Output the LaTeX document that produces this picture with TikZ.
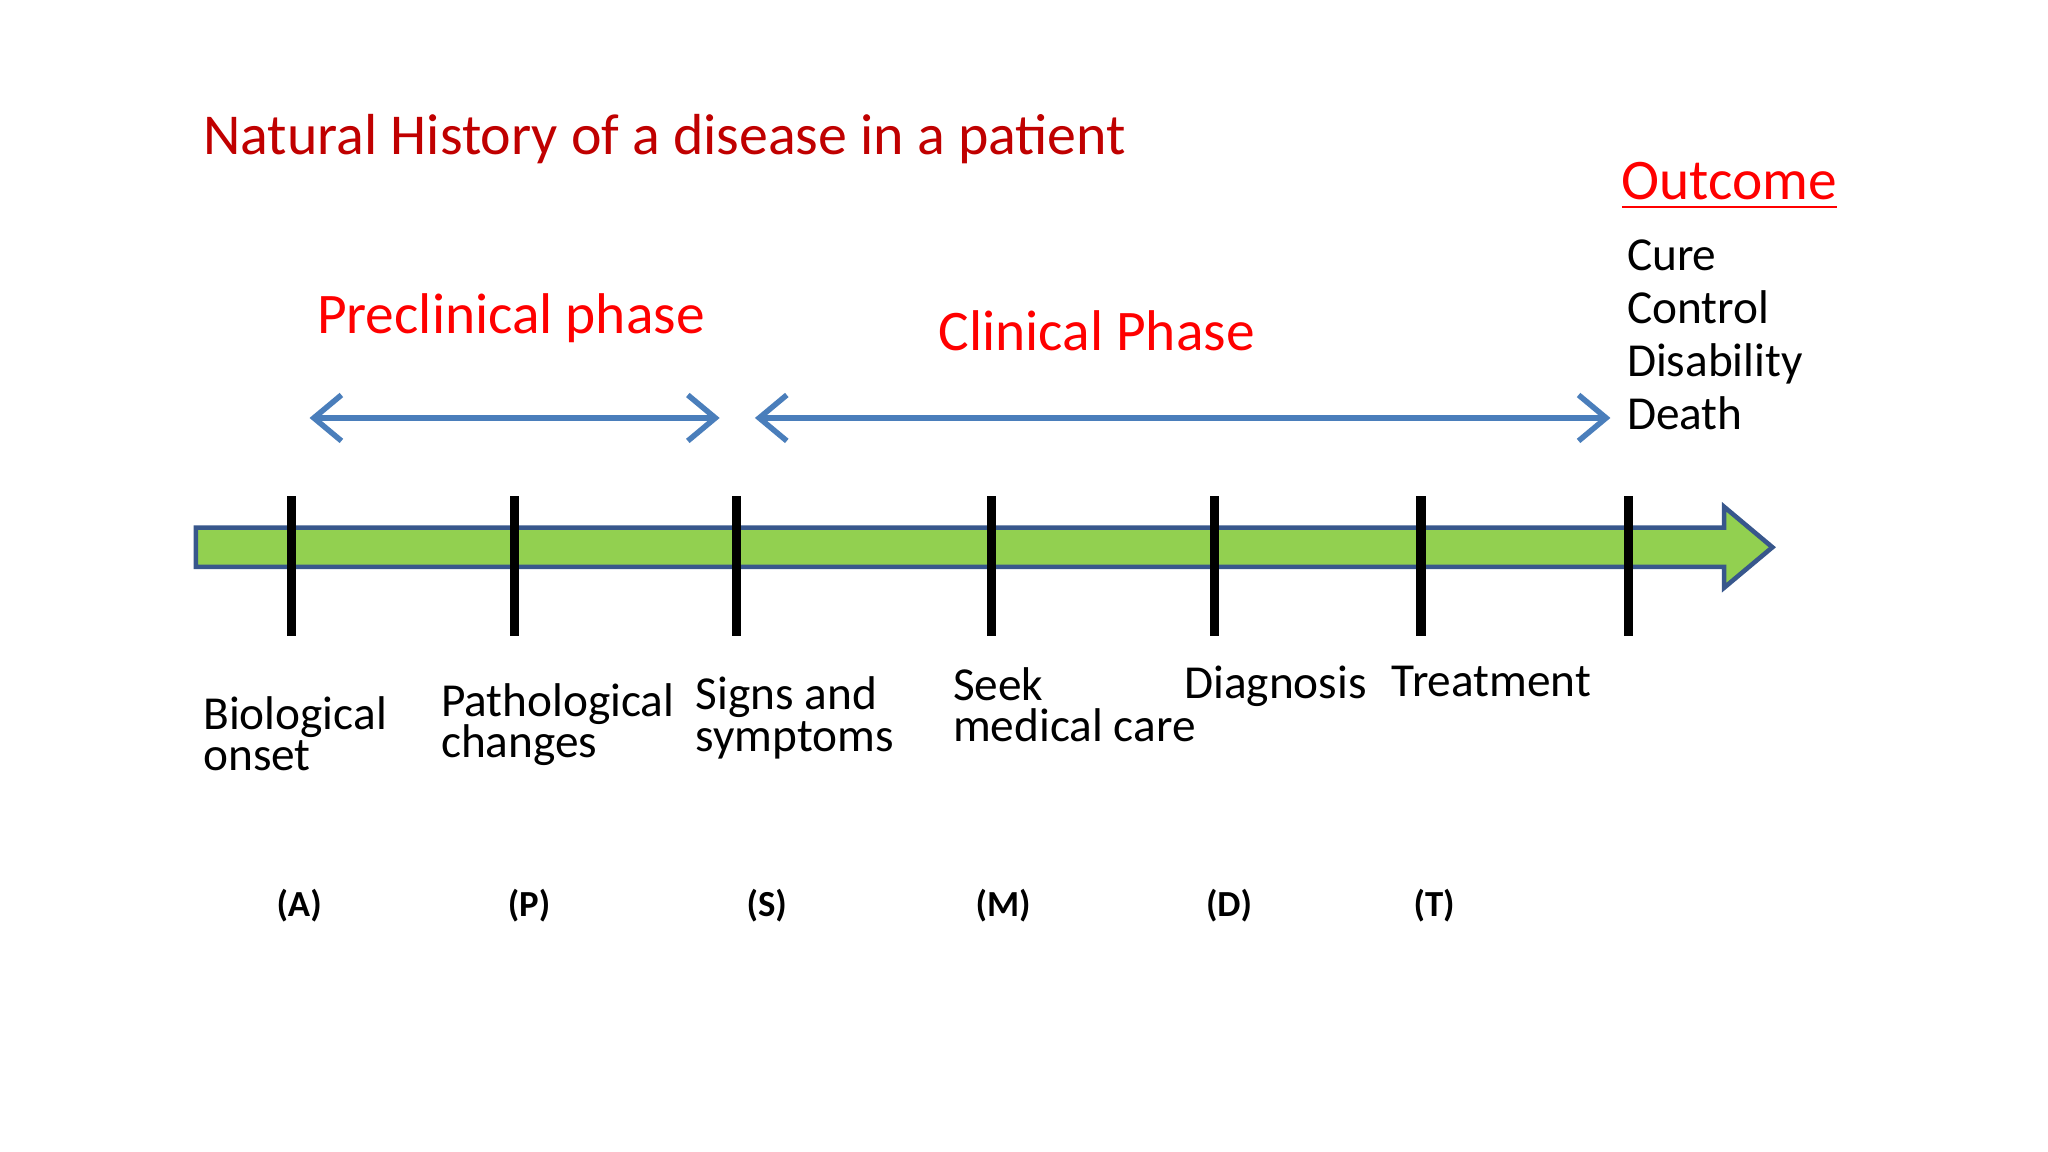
\documentclass[tikz,border=0pt]{standalone}
\usepackage{fontspec}
\setmainfont{Carlito}
\usetikzlibrary{arrows.meta}
\definecolor{dred}{RGB}{192,0,0}
\definecolor{bred}{RGB}{255,0,0}
\definecolor{ablue}{RGB}{74,126,187}
\definecolor{gfill}{RGB}{146,208,80}
\definecolor{gedge}{RGB}{56,87,140}
\begin{document}
\begin{tikzpicture}[x=0.01cm,y=-0.01cm,
  lab/.style={anchor=base west,inner sep=0pt,font=\fontsize{10.3pt}{9pt}\selectfont,align=left},
  let/.style={anchor=base,inner sep=0pt,font=\fontsize{8pt}{9pt}\selectfont\bfseries},
  tick/.style={line width=2pt,black},
  red/.style={anchor=base west,inner sep=0pt,text=bred,font=\fontsize{12.5pt}{14pt}\selectfont},
  phase/.style={ablue,line width=1.2pt,{Straight Barb[length=6pt,width=10pt]}-{Straight Barb[length=6pt,width=10pt]}}]
\useasboundingbox (0,0) rectangle (1568,882);
\node[anchor=base west,inner sep=0pt,text=dred,font=\fontsize{12.6pt}{14pt}\selectfont] (title) at (155,118) {Natural History of a disease in a patient};
\node[red] (pre) at (242,255) {Preclinical phase};
\node[red] (cli) at (718,268) {Clinical Phase};
\node[red] (out) at (1241,153) {\underline{Outcome}};
\node[lab] (cure) at (1245,207) {Cure};
\node[lab] (ctrl) at (1245,248) {Control};
\node[lab] (dis) at (1245,288) {Disability};
\node[lab] (death) at (1245,329) {Death};
\coordinate (p1) at (237,320); \coordinate (p2) at (551,320);
\coordinate (c1) at (578,320); \coordinate (c2) at (1233,320);
\draw[phase] (p1) -- (p2);
\draw[phase] (c1) -- (c2);
\draw[fill=gfill,draw=gedge,line width=1pt] (150,404) -- (1320,404) -- (1320,388) -- (1357,419) -- (1320,450) -- (1320,434) -- (150,434) -- cycle;
\foreach \x in {223,394,564,759,930,1088,1247} \draw[tick] (\x,380) -- (\x,487);
\node[lab] (bio) at (155,590) {Biological\\onset};
\node[lab] (pat) at (337,580) {Pathological\\changes};
\node[lab] (sig) at (532,575) {Signs and\\symptoms};
\node[lab] (seek) at (729,568) {Seek\\medical care};
\node[lab] (diag) at (906,535) {Diagnosis};
\node[lab] (trt) at (1065,533) {Treatment};
\node[let] (A) at (229,702) {(A)};
\node[let] (P) at (405,702) {(P)};
\node[let] (S) at (587,702) {(S)};
\node[let] (M) at (768,702) {(M)};
\node[let] (D) at (941,702) {(D)};
\node[let] (T) at (1098,702) {(T)};
\end{tikzpicture}
\end{document}
